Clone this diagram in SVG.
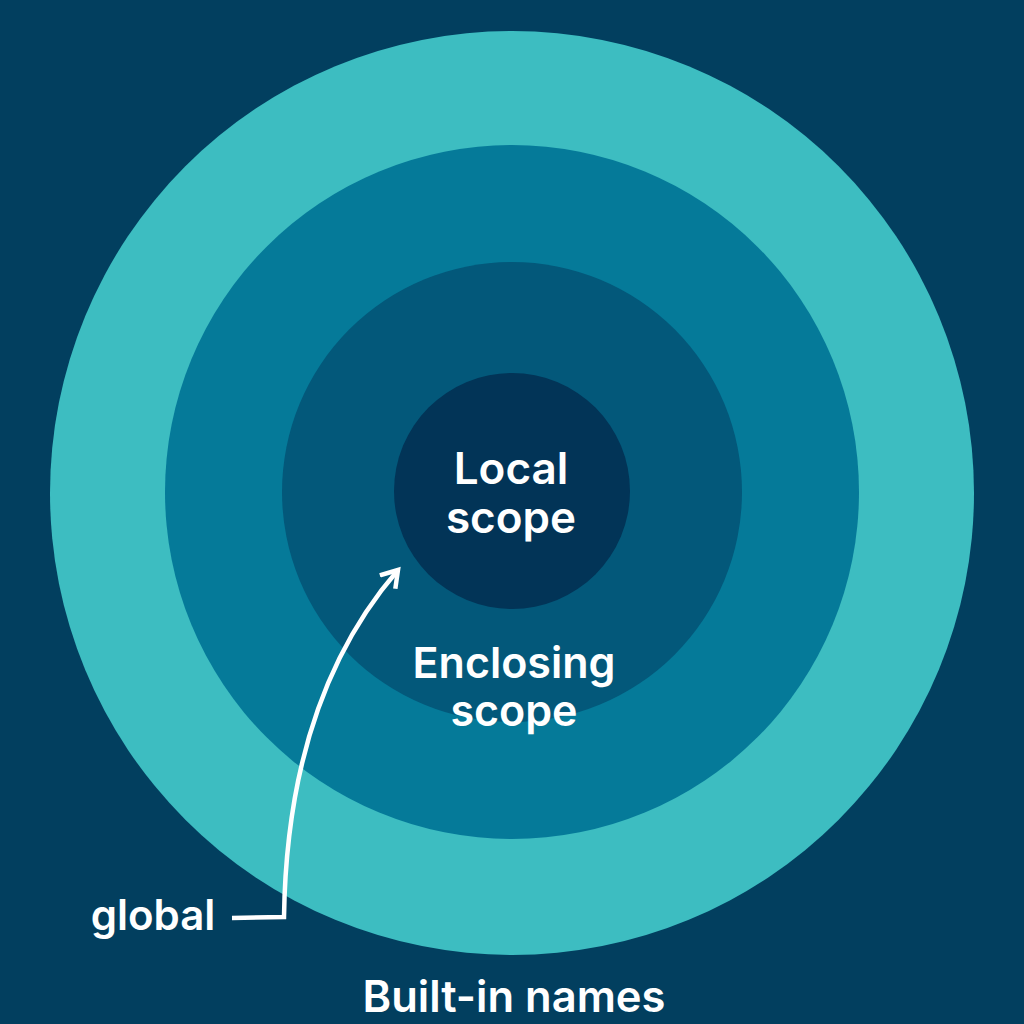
<svg xmlns="http://www.w3.org/2000/svg" width="1024" height="1024" viewBox="0 0 1024 1024">
<style>
.t{font-family:Inter,"Noto Sans","Liberation Sans",sans-serif;font-weight:600;fill:#fff;text-anchor:middle}
</style>
<defs>
<marker id="ah" viewBox="0 0 24 24" refX="17" refY="12" markerWidth="24" markerHeight="24" markerUnits="userSpaceOnUse" orient="auto">
<path d="M3,3 L17,12 L3,21" fill="none" stroke="#fff" stroke-width="4.5" stroke-linecap="square"/>
</marker>
</defs>
<rect width="1024" height="1024" fill="#023f5f"/>
<g id="builtin"><circle cx="512" cy="493" r="462" fill="#3dbdc1"/></g>
<g id="globalring"><circle cx="512" cy="492" r="347" fill="#057a99"/></g>
<g id="enclosing"><circle cx="512" cy="492" r="230" fill="#03587a"/></g>
<g id="local"><circle cx="512" cy="491" r="118" fill="#023457"/>
<text class="t" x="511" y="484" font-size="44">Local</text>
<text class="t" x="511" y="533" font-size="44">scope</text></g>
<g id="enclosing-label">
<text class="t" x="514" y="678" font-size="43">Enclosing</text>
<text class="t" x="514" y="726" font-size="43">scope</text></g>
<g id="global-label"><text class="t" x="153" y="930" font-size="42">global</text></g>
<g id="builtin-label"><text class="t" x="514" y="1012" font-size="43.5">Built-in names</text></g>
<g id="connectors">
<path d="M232,918 L284,917 C286,780 320,660 398,570" fill="none" stroke="#fff" stroke-width="4.5" marker-end="url(#ah)"/>
</g>
</svg>
